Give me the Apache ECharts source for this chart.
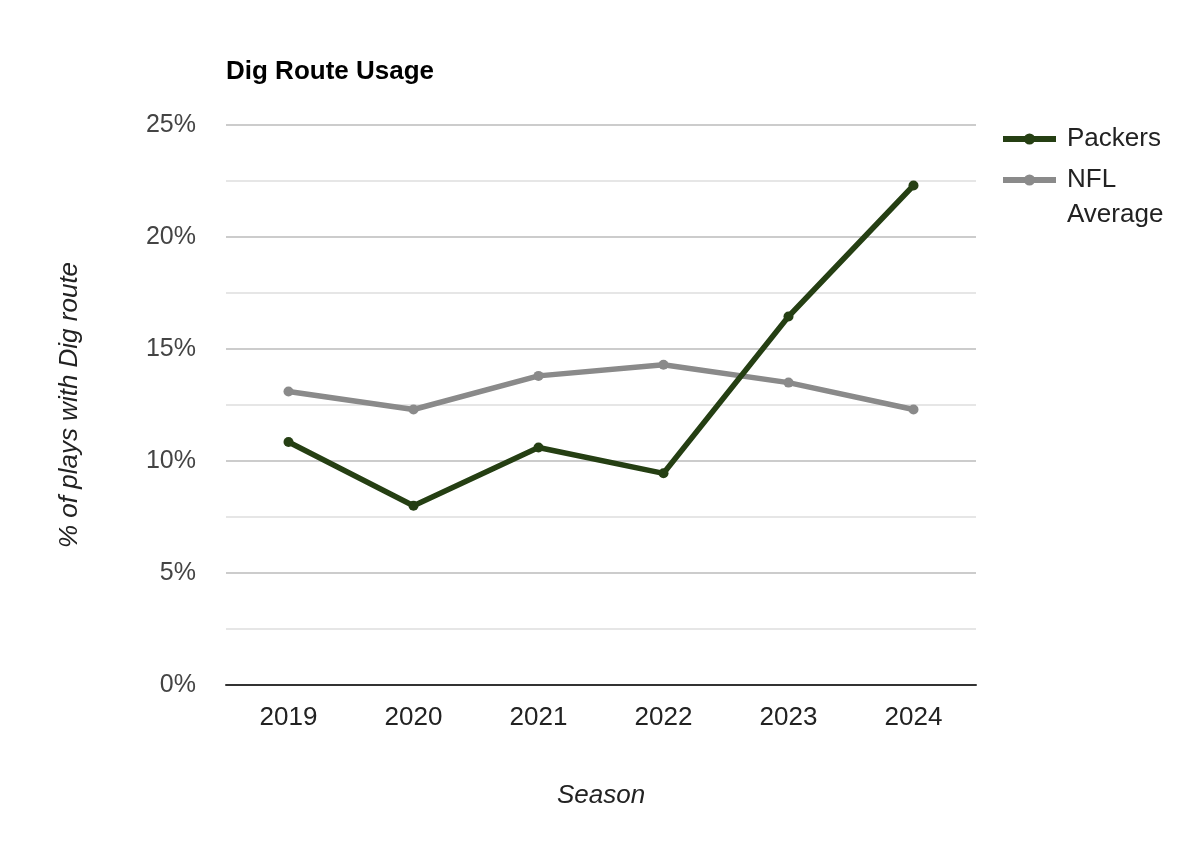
<!DOCTYPE html>
<html>
<head>
<meta charset="utf-8">
<script src="https://cdn.jsdelivr.net/npm/echarts@6/dist/echarts.min.js"></script>
<style>
  html, body { margin: 0; padding: 0; background: #fff; }
  #chart { width: 1200px; height: 845px; }
</style>
</head>
<body>
<div id="chart"></div>
<script>
// seasons
var seasons = ["2019", "2020", "2021", "2022", "2023", "2024"];
// % of plays with a Dig route
var packers = [10.85, 8.0, 10.6, 9.45, 16.45, 22.3];
var nflAverage = [13.1, 12.3, 13.8, 14.3, 13.5, 12.3];

var chart = echarts.init(document.getElementById("chart"));
var font = "Arial, 'Liberation Sans', sans-serif";

var option = {
  animation: false,
  textStyle: { fontFamily: font },
  title: {
    text: "Dig Route Usage",
    left: 226,
    top: 59,
    padding: 0,
    textStyle: { fontSize: 26, fontWeight: "bold", color: "#000", fontFamily: font }
  },
  legend: {
    orient: "vertical",
    left: 1000,
    top: 124,
    padding: 0,
    itemWidth: 53,
    itemHeight: 14,
    itemGap: 11,
    lineStyle: { width: 6 },
    itemStyle: { borderWidth: 0 },
    textStyle: { fontSize: 26, color: "#222", lineHeight: 30, padding: [0, 0, 0, 6], fontFamily: font },
    formatter: function (name) {
      return name === "NFL Average" ? "NFL" : name;
    },
    data: ["Packers", "NFL Average"]
  },
  // second line of the wrapped legend label
  graphic: [
    {
      type: "text",
      left: 1067,
      top: 202,
      style: { text: "Average", fontSize: 26, fill: "#222", fontFamily: font }
    }
  ],
  grid: {
    left: 226,
    right: 224,
    top: 125,
    bottom: 160
  },
  xAxis: {
    type: "category",
    data: seasons,
    boundaryGap: true,
    name: "Season",
    nameLocation: "middle",
    nameGap: 98,
    nameTextStyle: { fontSize: 26, fontStyle: "italic", color: "#222", fontFamily: font },
    axisLine: { lineStyle: { color: "#333", width: 2 } },
    axisTick: { show: false },
    axisLabel: { fontSize: 26, color: "#222", margin: 20, fontFamily: font }
  },
  yAxis: {
    type: "value",
    min: 0,
    max: 25,
    interval: 2.5,
    name: "% of plays with Dig route",
    nameLocation: "middle",
    nameGap: 143,
    nameRotate: 90,
    nameTextStyle: { fontSize: 26, fontStyle: "italic", color: "#222", fontFamily: font },
    axisLine: { show: false },
    axisTick: { show: false },
    axisLabel: {
      fontSize: 25,
      color: "#444",
      margin: 30,
      padding: [6, 0, 0, 0],
      fontFamily: font,
      formatter: function (v) {
        return v % 5 === 0 ? v + "%" : "";
      }
    },
    splitLine: {
      lineStyle: { color: ["#cccccc", "#e6e6e6"], width: 2 }
    }
  },
  series: [
    {
      name: "Packers",
      type: "line",
      data: packers,
      symbol: "circle",
      symbolSize: 10,
      lineStyle: { width: 5.5, color: "#253f13" },
      itemStyle: { color: "#253f13" },
      z: 3
    },
    {
      name: "NFL Average",
      type: "line",
      data: nflAverage,
      symbol: "circle",
      symbolSize: 10,
      lineStyle: { width: 5.5, color: "#8a8a8a" },
      itemStyle: { color: "#8a8a8a" },
      z: 2
    }
  ]
};

chart.setOption(option);
</script>
</body>
</html>
